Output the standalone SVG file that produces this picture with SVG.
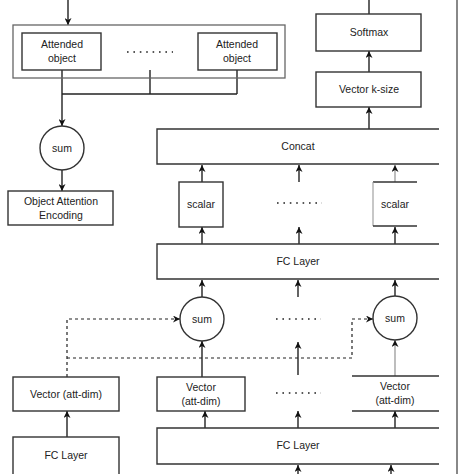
<svg xmlns="http://www.w3.org/2000/svg" width="474" height="474" viewBox="0 0 474 474">
<defs>
<marker id="ah" viewBox="0 0 10 10" refX="10" refY="5" markerWidth="7" markerHeight="7" markerUnits="userSpaceOnUse" orient="auto">
<path d="M0,0 L10,5 L0,10 L3,5 z" fill="#111"/>
</marker>
<style>
.b{fill:#fff;stroke:#333;stroke-width:1.4}
.o{fill:none;stroke:#333;stroke-width:1.4}
.g{fill:none;stroke:#999;stroke-width:1.1}
.c{fill:none;stroke:#222;stroke-width:1.4}
.a{fill:none;stroke:#222;stroke-width:1.4;marker-end:url(#ah)}
.ag{fill:none;stroke:#888;stroke-width:1.1;marker-end:url(#ah)}
.d{fill:none;stroke:#222;stroke-width:1.2;stroke-dasharray:3,3}
.dt{fill:none;stroke:#222;stroke-width:1.6;stroke-dasharray:1.6,4.8}
text{font-family:"Liberation Sans",Arial,sans-serif;font-size:10.5px;fill:#222;text-anchor:middle}
</style>
</defs>
<rect width="474" height="474" fill="#fff"/>
<line x1="457" y1="0" x2="457" y2="474" stroke="#888" stroke-width="2"/>

<g id="connectors">
<line class="a" x1="68" y1="0" x2="68" y2="25"/>
<line class="c" x1="62" y1="70" x2="62" y2="94"/>
<line class="a" x1="62" y1="94" x2="62" y2="126"/>
<line class="c" x1="150" y1="70" x2="150" y2="94"/>
<line class="c" x1="237" y1="70" x2="237" y2="94"/>
<line class="c" x1="62" y1="94" x2="237" y2="94"/>
<line class="a" x1="62" y1="170" x2="62" y2="191"/>
<line class="c" x1="369" y1="0" x2="369" y2="14"/>
<line class="a" x1="369" y1="72" x2="369" y2="51"/>
<line class="a" x1="369" y1="129" x2="369" y2="107"/>
<line class="a" x1="202" y1="182" x2="202" y2="165"/>
<line class="a" x1="299" y1="182" x2="299" y2="165"/>
<line class="ag" x1="395" y1="182" x2="395" y2="165"/>
<line class="a" x1="202" y1="244" x2="202" y2="227"/>
<line class="a" x1="299" y1="244" x2="299" y2="227"/>
<line class="a" x1="395" y1="244" x2="395" y2="227"/>
<line class="a" x1="202" y1="297" x2="202" y2="280"/>
<line class="a" x1="298" y1="297" x2="298" y2="280"/>
<line class="a" x1="395" y1="296" x2="395" y2="280"/>
<path class="d" d="M67,377 V319 H180" marker-end="url(#ah)"/>
<path class="d" d="M67,358 H352 V319 H373" marker-end="url(#ah)"/>
<line class="a" x1="202" y1="377" x2="202" y2="341"/>
<line class="a" x1="298" y1="375" x2="298" y2="342"/>
<line class="ag" x1="395" y1="376" x2="395" y2="340"/>
<line class="a" x1="67" y1="437" x2="67" y2="411"/>
<line class="a" x1="205" y1="428" x2="205" y2="411"/>
<line class="a" x1="298" y1="428" x2="298" y2="411"/>
<line class="a" x1="395" y1="428" x2="395" y2="411"/>
<line class="a" x1="298" y1="474" x2="298" y2="465"/>
<line class="a" x1="391" y1="474" x2="391" y2="465"/>
</g>

<g id="attended-group">
<rect x="13" y="25" width="272" height="53" fill="none" stroke="#666" stroke-width="1.3"/>
<line class="dt" x1="127" y1="52" x2="173" y2="52"/>
</g>
<g id="attended-1">
<rect class="b" x="22" y="33" width="79" height="37"/>
<text x="62" y="48">Attended</text>
<text x="62" y="62">object</text>
</g>
<g id="attended-n">
<rect class="b" x="198" y="33" width="79" height="37"/>
<text x="237" y="48">Attended</text>
<text x="237" y="62">object</text>
</g>
<g id="sum-top">
<circle class="b" cx="62" cy="148" r="22"/>
<text x="62" y="152">sum</text>
</g>
<g id="oae">
<rect class="b" x="8" y="191" width="105" height="34"/>
<text x="61" y="205">Object Attention</text>
<text x="61" y="219">Encoding</text>
</g>
<g id="softmax">
<rect class="b" x="316" y="14" width="105" height="37"/>
<text x="369" y="36">Softmax</text>
</g>
<g id="vector-k">
<rect class="b" x="316" y="72" width="105" height="35"/>
<text x="369" y="93">Vector k-size</text>
</g>
<g id="concat">
<path class="o" d="M439,129 H157 V164 H439"/>
<text x="298" y="150">Concat</text>
</g>
<g id="scalar-1">
<rect class="b" x="179" y="182" width="44" height="45"/>
<text x="201" y="208">scalar</text>
</g>
<line class="dt" x1="277" y1="203" x2="322" y2="203"/>
<g id="scalar-n">
<path class="o" d="M417,182 H373"/>
<path class="g" d="M373,182 V226"/>
<path class="o" d="M373,226 H417"/>
<text x="395" y="208">scalar</text>
</g>
<g id="fc-mid">
<path class="o" d="M439,244 H157 V279 H439"/>
<text x="298" y="265">FC Layer</text>
</g>
<g id="sum-1">
<circle class="b" cx="202" cy="319" r="22"/>
<text x="202" y="323">sum</text>
</g>
<line class="dt" x1="276" y1="319" x2="321" y2="319"/>
<g id="sum-n">
<circle class="b" cx="395" cy="318" r="22"/>
<text x="395" y="322">sum</text>
</g>
<g id="vector-left">
<rect class="b" x="13" y="377" width="106" height="34"/>
<text x="66" y="398">Vector (att-dim)</text>
</g>
<g id="fc-left">
<rect class="b" x="13" y="437" width="106" height="40"/>
<text x="66" y="459">FC Layer</text>
</g>
<g id="vector-1">
<rect class="b" x="157" y="377" width="88" height="34"/>
<text x="201" y="391">Vector</text>
<text x="201" y="405">(att-dim)</text>
</g>
<line class="dt" x1="276" y1="393" x2="321" y2="393"/>
<g id="vector-n">
<path class="o" d="M352,376 H439 M352,411 H439"/>
<text x="395" y="390">Vector</text>
<text x="395" y="404">(att-dim)</text>
</g>
<g id="fc-bottom">
<path class="o" d="M439,428 H157 V464 H439"/>
<text x="298" y="449">FC Layer</text>
</g>
</svg>
